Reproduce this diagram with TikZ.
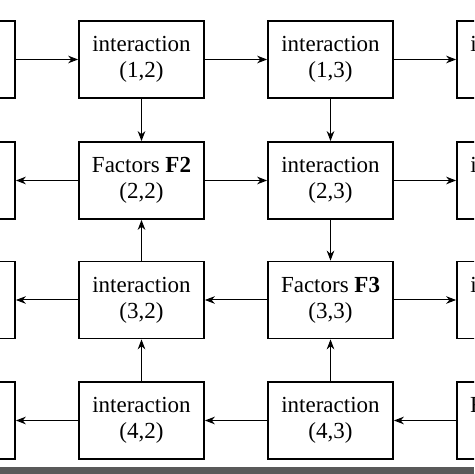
\documentclass[tikz,border=0pt]{standalone}
\usepackage{fontspec}
\setmainfont{Liberation Serif}
\usetikzlibrary{arrows.meta}
\begin{document}
\begin{tikzpicture}[x=0.5pt,y=-0.5pt,
  every node/.style={font=\fontsize{11.5}{13}\selectfont,align=center,inner sep=0pt},
  cell/.style={draw,line width=0.9pt,minimum width=62.5pt,minimum height=38.5pt},
  link/.style={line width=0.5pt,-{Stealth[length=5pt,width=3.8pt]}}]
\clip (0,0) rectangle (474,474);
\fill[white] (0,0) rectangle (474,474);
% column cut off on the left
\node[cell] (c11) at (-47.5,59.5) {};
\node[cell] (c21) at (-47.5,180.5) {};
\node[cell] (c31) at (-47.5,300) {};
\node[cell] (c41) at (-47.5,420.5) {};
\node[cell] (c12) at (141.5,59.5) {interaction\\(1,2)};
\node[cell] (c22) at (141.5,180.5) {Factors \textbf{F2}\\(2,2)};
\node[cell] (c32) at (141.5,300) {interaction\\(3,2)};
\node[cell] (c42) at (141.5,420.5) {interaction\\(4,2)};
\node[cell] (c13) at (330.5,59.5) {interaction\\(1,3)};
\node[cell] (c23) at (330.5,180.5) {interaction\\(2,3)};
\node[cell] (c33) at (330.5,300) {Factors \textbf{F3}\\(3,3)};
\node[cell] (c43) at (330.5,420.5) {interaction\\(4,3)};
% column cut off on the right
\node[cell] (c14) at (519.5,59.5) {interaction\\(1,4)};
\node[cell] (c24) at (519.5,180.5) {interaction\\(2,4)};
\node[cell] (c34) at (519.5,300) {interaction\\(3,4)};
\node[cell] (c44) at (519.5,420.5) {Factors \textbf{F4}\\(4,4)};
% rows
\draw[link] (c11) -- (c12);
\draw[link] (c12) -- (c13);
\draw[link] (c13) -- (c14);
\draw[link] (c22) -- (c21);
\draw[link] (c22) -- (c23);
\draw[link] (c23) -- (c24);
\draw[link] (c32) -- (c31);
\draw[link] (c33) -- (c32);
\draw[link] (c33) -- (c34);
\draw[link] (c42) -- (c41);
\draw[link] (c43) -- (c42);
\draw[link] (c44) -- (c43);
% columns
\draw[link] (c12) -- (c22);
\draw[link] (c32) -- (c22);
\draw[link] (c42) -- (c32);
\draw[link] (c13) -- (c23);
\draw[link] (c23) -- (c33);
\draw[link] (c43) -- (c33);
\fill[black!65] (0,467) rectangle (474,474);
\end{tikzpicture}
\end{document}
